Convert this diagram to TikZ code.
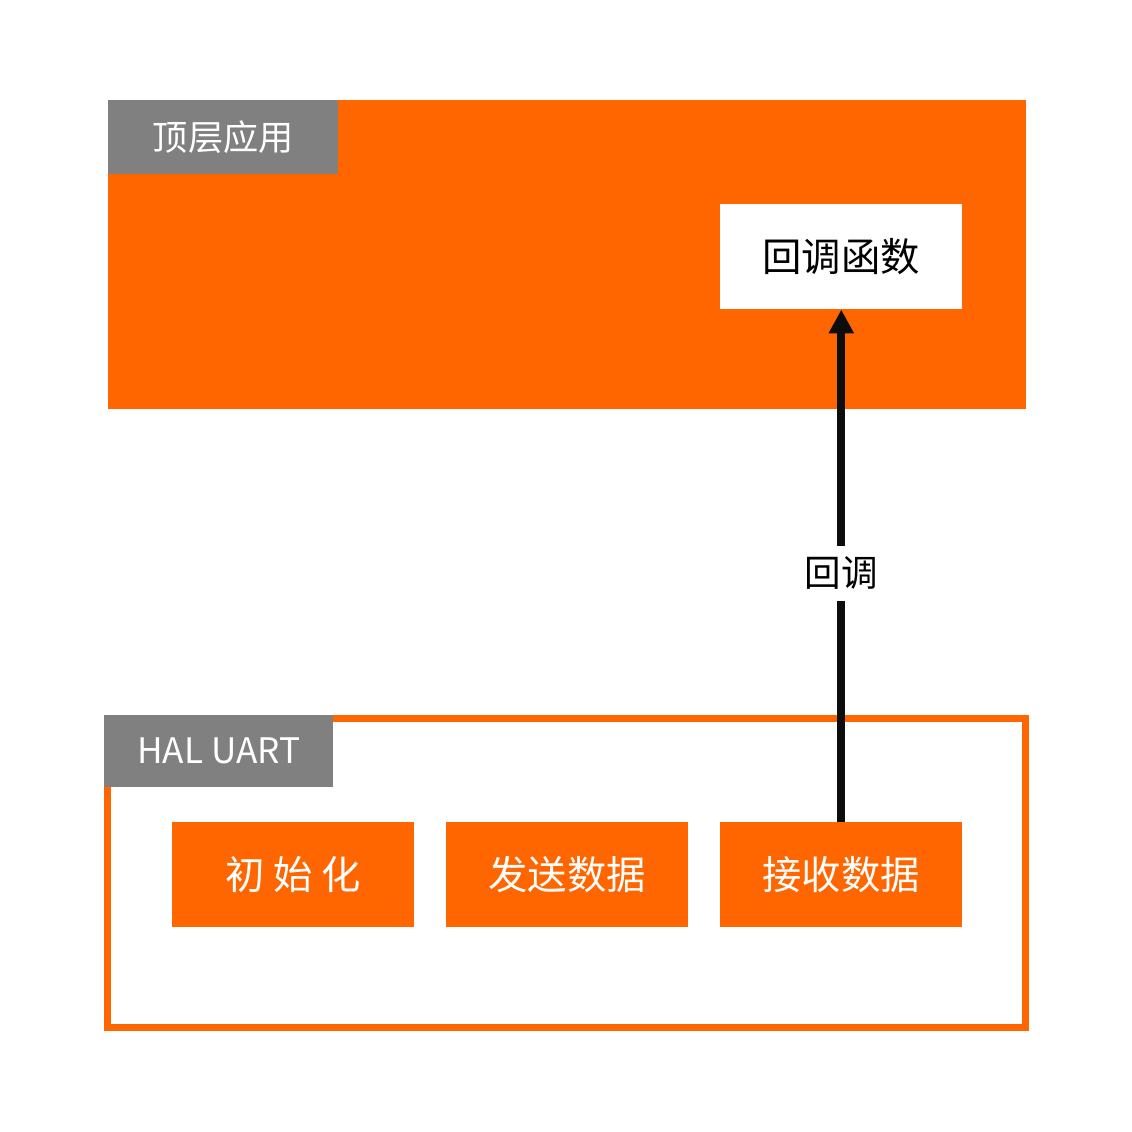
\documentclass[tikz,border=0pt]{standalone}
\usepackage{fontspec}
\setmainfont{Noto Sans CJK SC}
\usepackage{tikz}
\usetikzlibrary{arrows.meta,positioning}
\definecolor{halorange}{RGB}{255,102,0}
\definecolor{tabgray}{RGB}{128,128,128}

\begin{document}
\begin{tikzpicture}[x=0.025cm, y=-0.025cm,
    tab/.style={fill=tabgray, text=white, inner sep=0pt, anchor=north west,
        font=\fontsize{25pt}{30pt}\selectfont},
    block/.style={fill=halorange, text=white, inner sep=0pt, anchor=north west,
        minimum width=242*0.025cm, minimum height=105*0.025cm,
        font=\fontsize{28pt}{32pt}\selectfont}]
    % Canvas
    \useasboundingbox (0,0) rectangle (1132,1132);

    % Top layer: application
    \fill[halorange] (108,100) rectangle (1026,409);
    \node[tab, minimum width=230*0.025cm, minimum height=74*0.025cm] (apptab) at (108,100) {顶层应用};
    \node[block, fill=white, text=black] (cbfunc) at (720,204) {回调函数};

    % Bottom layer: HAL UART
    \draw[halorange, line width=5pt] (107.5,718.5) rectangle (1025.5,1027.5);
    \node[tab, minimum width=229*0.025cm, minimum height=72*0.025cm] (haltab) at (104,715) {HAL UART};
    \node[block] (init) at (172,822) {初 始 化};
    \node[block] (send) at (446,822) {发送数据};
    \node[block] (recv) at (720,822) {接收数据};

    % Callback arrow
    \draw[-{Triangle[length=17pt, width=17pt]}, line width=5.7pt, black!95]
        (recv.north) -- (cbfunc.south)
        node[pos=0.485, fill=white, text=black, inner xsep=3pt, inner ysep=8pt,
            font=\fontsize{26pt}{30pt}\selectfont] (cblabel) {回调};
\end{tikzpicture}
\end{document}
